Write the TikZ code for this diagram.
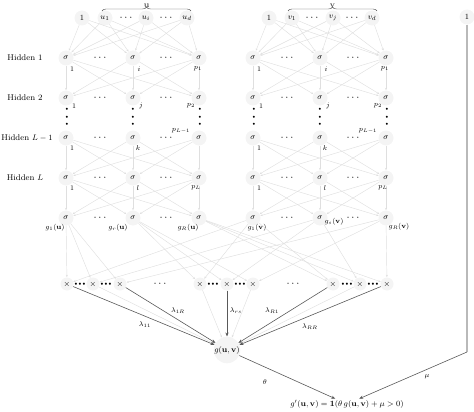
\documentclass[tikz,border=0pt]{standalone}
\usetikzlibrary{arrows.meta,decorations.pathreplacing}
\newcommand{\onedot}{\hbox{\scalebox{0.62}{$\bullet$}}}
\newcommand{\myvdots}{\vbox{\baselineskip=7.5pt\lineskiplimit=-10pt\onedot\onedot\onedot}}
\newcommand{\smdots}{\scalebox{0.65}{$\bullet\bullet\bullet$}}
\newcommand{\bigdots}{{\fontsize{10.5}{10}\selectfont$\cdots$}}
\begin{document}
\begin{tikzpicture}[x=1pt,y=-1pt, font=\fontsize{8.3}{10}\selectfont,
 neuron/.style={circle,fill=gray!9,minimum size=15pt,inner sep=0pt},
 prodn/.style={circle,fill=gray!9,minimum size=13pt,inner sep=0pt},
 lite/.style={draw=gray!25,line width=0.45pt,-{Stealth[length=2.5pt,width=2pt]}},
 dark/.style={draw=black!65,line width=0.6pt,-{Stealth[length=4pt,width=3.2pt]}},
 lab/.style={font=\fontsize{7}{8}\selectfont,inner sep=0pt},
 hid/.style={font=\fontsize{8.3}{10}\selectfont,inner sep=0pt},
 dotsn/.style={inner sep=0pt},
]
\useasboundingbox (0,0) rectangle (474,412);

% layer names
\node[hid] (H1) at (25,58) {Hidden 1};
\node[hid] (H2) at (25,98) {Hidden 2};
\node[hid] (H3) at (27,138) {Hidden $L-1$};
\node[hid] (H4) at (25,178) {Hidden $L$};

% inputs left
\node[neuron] (uone) at (82,18) {$1$};
\node[neuron] (u1) at (105,18) {$u_1$};
\node[dotsn] (udA) at (126,18) {\bigdots};
\node[neuron] (ui) at (146,18) {$u_i$};
\node[dotsn] (udB) at (166,18) {\bigdots};
\node[neuron] (ud) at (187,18) {$u_d$};
\draw[black!70,decorate,decoration={brace,amplitude=4pt}] (102,11) -- (191,11) node[midway,above=3.5pt,inner sep=0pt] (ulab) {$\mathbf{u}$};

% inputs right
\node[neuron] (vone) at (269,18) {$1$};
\node[neuron] (v1) at (292,18) {$v_1$};
\node[dotsn] (vdA) at (312,18) {\bigdots};
\node[neuron] (vj) at (333,18) {$v_j$};
\node[dotsn] (vdB) at (352,18) {\bigdots};
\node[neuron] (vd) at (372,18) {$v_d$};
\draw[black!70,decorate,decoration={brace,amplitude=4pt}] (288,11) -- (377,11) node[midway,above=3.5pt,inner sep=0pt] (vlab) {$\mathbf{v}$};

% far right bias
\node[neuron] (wone) at (467,17) {$1$};
\coordinate (corner) at (467,352);

% towers
\foreach \t/\dx in {U/0,V/187}{
  \foreach \r/\y in {a/58,b/98,c/138,d/178,e/218}{
    \node[neuron] (\t\r1) at (66+\dx,\y) {$\sigma$};
    \node[neuron] (\t\r2) at (133+\dx,\y) {$\sigma$};
    \node[neuron] (\t\r3) at (199+\dx,\y) {$\sigma$};
    \node[dotsn] (\t\r x1) at (100+\dx,\y) {\bigdots};
    \node[dotsn] (\t\r x2) at (166+\dx,\y) {\bigdots};
  }
  \node[dotsn] (\t vd1) at (67+\dx,117) {\myvdots};
  \node[dotsn] (\t vd2) at (133+\dx,117) {\myvdots};
  \node[dotsn] (\t vd3) at (200+\dx,117) {\myvdots};
  \foreach \a/\b in {a/b,c/d,d/e}{
    \foreach \i in {1,2,3}{
      \foreach \j in {1,2,3}{
        \draw[lite] (\t\a\i) -- (\t\b\j);
      }
    }
  }
  % small labels
  \node[lab] (\t la1) at (72+\dx,69) {$1$};
  \node[lab] (\t la2) at (139+\dx,69) {$i$};
  \node[lab] (\t la3) at (198+\dx,69) {$p_1$};
  \node[lab] (\t lb1) at (74+\dx,106) {$1$};
  \node[lab] (\t lb2) at (141+\dx,106) {$j$};
  \node[lab] (\t lb3) at (191+\dx,106) {$p_2$};
  \node[lab] (\t lc3) at (181+\dx,131) {$p_{L-1}$};
  \node[lab] (\t lc1) at (72+\dx,148) {$1$};
  \node[lab] (\t lc2) at (138+\dx,148) {$k$};
  \node[lab] (\t ld1) at (72+\dx,188) {$1$};
  \node[lab] (\t ld2) at (138+\dx,188) {$l$};
  \node[lab] (\t ld3) at (196+\dx,188) {$p_L$};
}
\foreach \s in {uone,u1,ui,ud}{\foreach \j in {1,2,3}{\draw[lite] (\s) -- (Ua\j);}}
\foreach \s in {vone,v1,vj,vd}{\foreach \j in {1,2,3}{\draw[lite] (\s) -- (Va\j);}}

% g labels
\node[lab,font=\fontsize{7.5}{8}\selectfont] (gU1) at (55,228) {$g_1(\mathbf{u})$};
\node[lab,font=\fontsize{7.5}{8}\selectfont] (gU2) at (118,228) {$g_r(\mathbf{u})$};
\node[lab,font=\fontsize{7.5}{8}\selectfont] (gU3) at (188,228) {$g_R(\mathbf{u})$};
\node[lab,font=\fontsize{7.5}{8}\selectfont] (gV1) at (257,228) {$g_1(\mathbf{v})$};
\node[lab,font=\fontsize{7.5}{8}\selectfont] (gV2) at (334,222) {$g_s(\mathbf{v})$};
\node[lab,font=\fontsize{7.5}{8}\selectfont] (gV3) at (399,227) {$g_R(\mathbf{v})$};

% product layer
\foreach \n/\x in {P11/67,P1s/93,P1R/120,Pr1/200,Prs/227,PrR/253,PR1/333,PRs/360,PRR/387}{
  \node[prodn] (\n) at (\x,284) {$\times$};
}
\foreach \n/\x in {q1/80,q2/106,q3/213,q4/240,q5/347,q6/373}{
  \node[dotsn] (\n) at (\x,284) {\smdots};
}
\node[dotsn] (pdA) at (160,284) {\bigdots};
\node[dotsn] (pdB) at (293,284) {\bigdots};

% g -> products
\foreach \p in {P11,P1s,P1R}{\draw[lite] (Ue1) -- (\p);}
\foreach \p in {Pr1,Prs,PrR}{\draw[lite] (Ue2) -- (\p);}
\foreach \p in {PR1,PRs,PRR}{\draw[lite] (Ue3) -- (\p);}
\foreach \p in {P11,Pr1,PR1}{\draw[lite] (Ve1) -- (\p);}
\foreach \p in {P1s,Prs,PRs}{\draw[lite] (Ve2) -- (\p);}
\foreach \p in {P1R,PrR,PRR}{\draw[lite] (Ve3) -- (\p);}

% aggregate node
\node[circle,fill=gray!9,minimum size=24pt,inner sep=0pt] (G) at (227,350) {$g(\mathbf{u},\mathbf{v})$};
\foreach \p in {P1s,Pr1,PrR,PRs}{\draw[lite] (\p) -- (G);}
\draw[dark] (P11) -- (G);
\draw[dark] (P1R) -- (G);
\draw[dark] (Prs) -- (G);
\draw[dark] (PR1) -- (G);
\draw[dark] (PRR) -- (G);
\node[lab,font=\fontsize{7.5}{8}\selectfont] (l11) at (145,325) {$\lambda_{11}$};
\node[lab,font=\fontsize{7.5}{8}\selectfont] (l1R) at (178,311) {$\lambda_{1R}$};
\node[lab,font=\fontsize{7.5}{8}\selectfont] (lrs) at (236,311) {$\lambda_{rs}$};
\node[lab,font=\fontsize{7.5}{8}\selectfont] (lR1) at (272,311) {$\lambda_{R1}$};
\node[lab,font=\fontsize{7.5}{8}\selectfont] (lRR) at (310,327) {$\lambda_{RR}$};

% output
\node[inner sep=1pt] (F) at (347,404) {$g'(\mathbf{u},\mathbf{v}) = \mathbf{1}(\theta\, g(\mathbf{u},\mathbf{v}) + \mu > 0)$};
\draw[gray!55,line width=1.4pt] (wone) -- (corner);
\draw[dark] (G) -- (F);
\draw[dark] (corner) -- (F);
\node[lab] (th) at (265,382) {$\theta$};
\node[lab] (mu) at (427,377) {$\mu$};
\end{tikzpicture}
\end{document}
